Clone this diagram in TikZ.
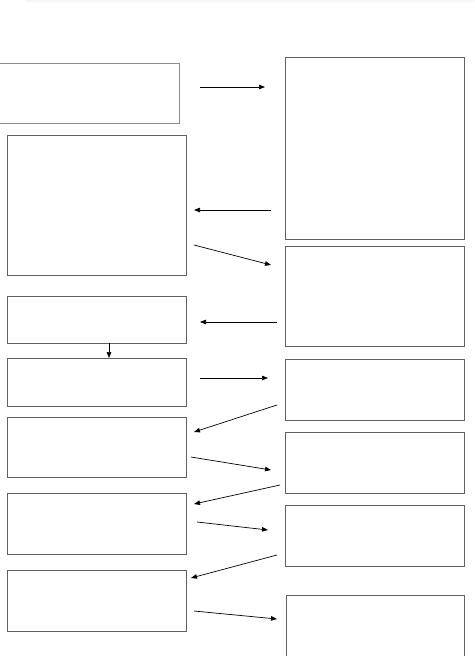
\documentclass[tikz,border=0pt]{standalone}
\usetikzlibrary{arrows.meta}
\begin{document}
\begin{tikzpicture}[x=1pt,y=-1pt,
  box/.style={draw=black!62, line width=0.8pt, fill=white, inner sep=0pt, outer sep=0pt, anchor=north west, minimum width=179pt},
  arr/.style={draw=black, line width=0.7pt, -{Triangle[length=6pt,width=4.5pt]}}]
\useasboundingbox (0,0) rectangle (474,656);
\clip (0,0) rectangle (474,656);
\fill[black!4] (25,0) rectangle (474,2);
% left column
\node[box, draw=black!45, minimum width=181pt, minimum height=60pt] (L1) at (-2,63) {};
\node[box, minimum height=140pt] (L2) at (7,135) {};
\node[box, minimum height=47pt] (L3) at (7,296) {};
\node[box, minimum height=48pt] (L4) at (7,358) {};
\node[box, minimum height=60pt] (L5) at (7,417) {};
\node[box, minimum height=61pt] (L6) at (7,493) {};
\node[box, minimum height=61pt] (L7) at (7,570) {};
% right column
\node[box, minimum height=182pt] (R1) at (285,57) {};
\node[box, minimum height=100pt] (R2) at (285,246) {};
\node[box, minimum height=61pt] (R3) at (285,359) {};
\node[box, minimum height=61pt] (R4) at (285,432) {};
\node[box, minimum height=61pt] (R5) at (285,505) {};
\node[box, minimum width=178pt, minimum height=65pt] (R6) at (286,595) {};
% arrow end points
\coordinate (a1s) at (200,87);  \coordinate (a1e) at (265,87);
\coordinate (a2s) at (271,210); \coordinate (a2e) at (194,210);
\coordinate (a3s) at (194,245); \coordinate (a3e) at (271,265);
\coordinate (a4s) at (277,322); \coordinate (a4e) at (200,322);
\coordinate (a6s) at (200,378); \coordinate (a6e) at (268,378);
\coordinate (a7s) at (277,405); \coordinate (a7e) at (194,432);
\coordinate (a8s) at (191,457); \coordinate (a8e) at (271,470);
\coordinate (a9s) at (280,485); \coordinate (a9e) at (194,504);
\coordinate (a10s) at (197,522); \coordinate (a10e) at (268,530);
\coordinate (a11s) at (277,555); \coordinate (a11e) at (191,578);
\coordinate (a12s) at (194,611); \coordinate (a12e) at (277,619);
\foreach \i in {1,2,3,4,6,7,8,9,10,11,12}{ \draw[arr] (a\i s) -- (a\i e); }
% vertical connector L3 -> L4
\draw[arr] (L3.south -| 109,0) -- (L4.north -| 109,0);
\end{tikzpicture}
\end{document}
